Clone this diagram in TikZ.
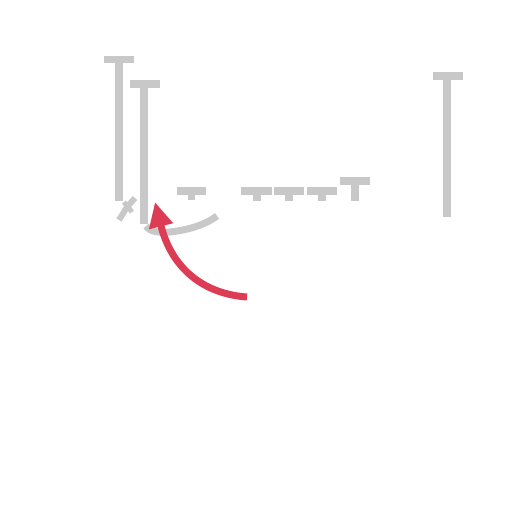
\documentclass[tikz,border=0pt]{standalone}
\usetikzlibrary{arrows.meta}
\definecolor{gr}{HTML}{C8C8C8}
\definecolor{rd}{HTML}{DC3C54}
\begin{document}
\begin{tikzpicture}[x=1pt,y=-1pt,
  stem/.style={draw=gr,line width=8pt},
  bar/.style={fill=gr,draw=none},
  arc/.style={draw=gr,line width=7pt},
  redarrow/.style={draw=rd,line width=7pt,-{Triangle[length=25pt,width=23pt]}}]
\useasboundingbox (0,0) rectangle (512,512);
% T 1
\fill[bar] (104,56) rectangle (134,63);
\draw[stem] (119,63) -- (119,201);
% T 2
\fill[bar] (130,80) rectangle (160,88);
\draw[stem] (144,88) -- (144,224);
% small fragment
\draw[gr,line width=6pt] (135,198) -- (127,207) -- (119,220);
\draw[gr,line width=5pt] (124,202) -- (132,212);
% arc
\draw[arc] (146,226) .. controls (150,232) and (160,233) .. (170,232) .. controls (188,230) and (205,225) .. (217,216);
% small Ts
\fill[bar] (177,187) rectangle (206,195);
\fill[bar] (188,195) rectangle (195,200);
\fill[bar] (241,187) rectangle (272,195);
\fill[bar] (253,195) rectangle (261,201);
\fill[bar] (274,187) rectangle (304,195);
\fill[bar] (285,195) rectangle (293,201);
\fill[bar] (307,187) rectangle (337,195);
\fill[bar] (318,195) rectangle (326,201);
% bigger T
\fill[bar] (340,177) rectangle (370,185);
\fill[bar] (351,185) rectangle (359,201);
% right T
\fill[bar] (433,72) rectangle (463,80);
\draw[stem] (447,80) -- (447,217);
% red arrow
\coordinate (tail) at (247,297);
\coordinate (tip) at (155,202);
\draw[redarrow] (tail) .. controls (205,294) and (172,270) .. (tip);
\end{tikzpicture}
\end{document}
